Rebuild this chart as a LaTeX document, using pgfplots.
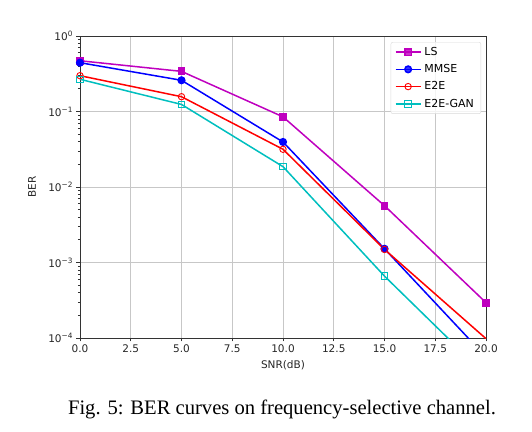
\documentclass[border=0pt]{standalone}
\usepackage{fontspec}
\setmainfont{DejaVu Sans}
\newfontfamily\capfont{Liberation Serif}
\usepackage{pgfplots}
\pgfplotsset{compat=1.18}
\definecolor{mplm}{rgb}{0.75,0,0.75}
\definecolor{mplc}{rgb}{0,0.75,0.75}
\begin{document}
\begin{tikzpicture}
\path[use as bounding box] (-80pt,-93pt) rectangle (452pt,338pt);
\begin{axis}[
  at={(0,0)}, anchor=south west,
  scale only axis, width=406pt, height=302pt,
  ymode=log, xmin=0, xmax=20, ymin=1e-4, ymax=1,
  xtick={0,2.5,5,7.5,10,12.5,15,17.5,20},
  xticklabels={0.0,2.5,5.0,7.5,10.0,12.5,15.0,17.5,20.0},
  ytick={1e-4,1e-3,1e-2,1e-1,1},
  yticklabels={10\textsuperscript{−4},10\textsuperscript{−3},10\textsuperscript{−2},10\textsuperscript{−1},10\textsuperscript{0}},
  minor ytick={2e-4,3e-4,4e-4,5e-4,6e-4,7e-4,8e-4,9e-4,2e-3,3e-3,4e-3,5e-3,6e-3,7e-3,8e-3,9e-3,2e-2,3e-2,4e-2,5e-2,6e-2,7e-2,8e-2,9e-2,2e-1,3e-1,4e-1,5e-1,6e-1,7e-1,8e-1,9e-1},
  /pgf/number format/assume math mode=true,
  tick label style={font=\fontsize{10.5}{12}\selectfont, text=black!85},
  tick align=outside, major tick length=3.5pt, minor tick length=2pt,
  tick style={black!80, line width=0.8pt},
  minor tick style={black!80, line width=0.6pt},
  xtick pos=bottom, ytick pos=left,
  axis line style={black!80, line width=0.8pt},
  grid=major, major grid style={black!22, line width=0.8pt},
  xlabel={SNR(dB)}, ylabel={BER},
  label style={font=\fontsize{10.5}{12}\selectfont, text=black!85},
  xlabel style={at={(axis description cs:0.5,-0.089)}, anchor=center},
  ylabel style={at={(axis description cs:-0.118,0.5)}, anchor=center},
  legend style={at={(rel axis cs:0.988,0.98)}, anchor=north east,
    font=\fontsize{11}{13}\selectfont, draw=black!15, rounded corners=2pt,
    fill=white, fill opacity=0.8, text opacity=1, row sep=3.6pt,
    inner xsep=4pt, inner ysep=3pt,
    nodes={inner xsep=3pt}},
  legend cell align=left,
  legend image code/.code={\draw[mark repeat=2,mark phase=2] plot coordinates {(0pt,0pt) (12.5pt,0pt) (25pt,0pt)};},
  every axis plot/.append style={line width=1.5pt},
]
\addplot[mplm, mark=square*, mark size=3.2pt, mark options={solid}] coordinates {
(0,0.47) (5,0.34) (10,0.085) (15,0.00565) (20,0.000294)};
\addlegendentry{LS}
\addplot[blue, mark=*, mark size=3.3pt] coordinates {
(0,0.443) (5,0.259) (10,0.0395) (15,0.00152) (20,0.000056)};
\addlegendentry{MMSE}
\addplot[red, mark=o, mark size=3.2pt, mark options={line width=0.9pt}] coordinates {
(0,0.298) (5,0.157) (10,0.0316) (15,0.00149) (20,0.000098)};
\addlegendentry{E2E}
\addplot[mplc, mark=square, mark size=3.2pt, mark options={line width=0.9pt}] coordinates {
(0,0.267) (5,0.124) (10,0.0186) (15,0.00066) (20,0.000032)};
\addlegendentry{E2E-GAN}
\end{axis}
\node[font=\capfont\fontsize{20.6}{24}\selectfont, anchor=center] at (202pt,-71pt) {Fig. 5: BER curves on frequency-selective channel.};
\end{tikzpicture}
\end{document}
